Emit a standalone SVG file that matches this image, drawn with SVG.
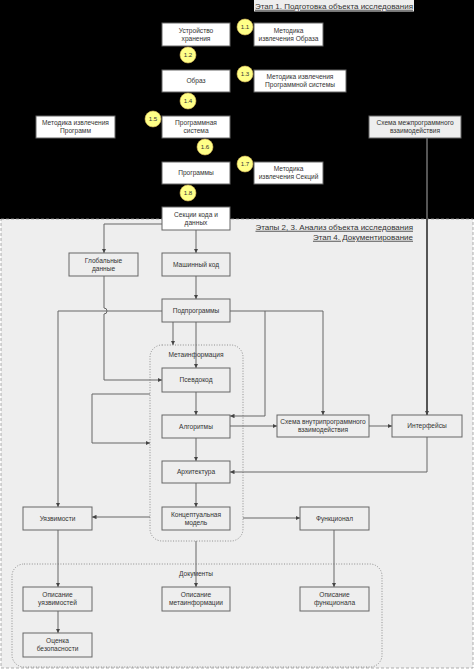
<svg xmlns="http://www.w3.org/2000/svg" width="474" height="669" viewBox="0 0 474 669">
<style>
text{font-family:"Liberation Sans",Arial,sans-serif;fill:#333;}
.t{font-size:6.6px;text-anchor:middle;}
.h{font-size:8px;text-anchor:end;text-decoration:underline;}
.n{stroke:#666;stroke-width:1;fill:#ffffff;}
.g{stroke:#666;stroke-width:1;fill:#eeeeee;}
.c{fill:#ffff88;stroke:#d6b656;stroke-width:0.6;}
.ct{font-size:6.2px;text-anchor:middle;}
.e{fill:none;stroke:#666;stroke-width:1;marker-end:url(#a);}
.d{fill:none;stroke:#777;stroke-width:0.8;stroke-dasharray:1 1.6;}
</style>
<defs>
<marker id="a" viewBox="0 0 6 6" refX="6" refY="3" markerWidth="4.5" markerHeight="4.5" markerUnits="userSpaceOnUse" orient="auto">
<path d="M0,0 L6,3 L0,6 z" fill="#444"/>
</marker>
</defs>
<rect x="0" y="0" width="474" height="219" fill="#000"/>
<rect x="1" y="219" width="472" height="449" fill="#eeeeee" stroke="#999" stroke-width="0.8" stroke-dasharray="3 2"/>
<g id="titles">
<rect x="254" y="0" width="160" height="11.5" fill="#eeeeee"/>
<text class="h" x="413" y="8.8">Этап 1. Подготовка объекта исследования</text>
<text class="h" x="413" y="229.8">Этапы 2, 3. Анализ объекта исследования</text>
<text class="h" x="413" y="239.8">Этап 4. Документирование</text>
</g>
<g id="containers">
<g id="meta"><rect class="d" x="150" y="345" width="93" height="196" rx="12"/><text class="t" x="196" y="356.5">Метаинформация</text></g>
<g id="docs"><rect class="d" x="12" y="564" width="370" height="103" rx="12"/><text class="t" x="196" y="575.5">Документы</text></g>
</g>
<g id="connectors">
<path class="e" d="M427,138 V415" style="stroke-width:2;stroke:#555"/>
<path class="e" d="M162,224 H104 V253"/>
<path class="e" d="M196,230 V253"/>
<path class="e" d="M196,276 V299"/>
<path class="e" d="M104,276 V308 A3,3 0 0 1 104,314 V380 H162"/>
<path class="e" d="M162,311 H58 V507"/>
<path class="e" d="M230,311 H323 V415"/>
<path class="e" d="M265,311 V416 H230"/>
<path class="e" d="M173,322 V345"/>
<path class="e" d="M196,322 V368"/>
<path class="e" d="M196,392 V415"/>
<path class="e" d="M196,438 V461"/>
<path class="e" d="M150,394 H92 V443 H150"/>
<path class="e" d="M230,426 H277"/>
<path class="e" d="M369,426 H392"/>
<path class="e" d="M427,437 V472 H230"/>
<path class="e" d="M196,483 V507"/>
<path class="e" d="M150,517 H92"/>
<path class="e" d="M243,518 H300"/>
<path class="e" d="M58,530 V587"/>
<path class="e" d="M196,541 V587"/>
<path class="e" d="M334,530 V587"/>
<path class="e" d="M58,611 V633"/>
</g>
<g id="n-storage"><rect class="n" x="162" y="23" width="68" height="23"/><text class="t" x="196" y="32.7">Устройство</text><text class="t" x="196" y="40.7">хранения</text></g>
<g id="n-m-obraz"><rect class="n" x="254" y="23" width="69" height="23"/><text class="t" x="288.5" y="32.7">Методика</text><text class="t" x="288.5" y="40.7">извлечения Образа</text></g>
<g id="n-obraz"><rect class="n" x="162" y="70" width="68" height="22"/><text class="t" x="196" y="83.3">Образ</text></g>
<g id="n-m-ps"><rect class="n" x="254" y="70" width="92" height="22"/><text class="t" x="300" y="79.2">Методика извлечения</text><text class="t" x="300" y="87.2">Программной системы</text></g>
<g id="n-m-prog"><rect class="n" x="36" y="116" width="79" height="22"/><text class="t" x="75.5" y="125.2">Методика извлечения</text><text class="t" x="75.5" y="133.2">Программ</text></g>
<g id="n-ps"><rect class="n" x="162" y="116" width="68" height="22"/><text class="t" x="196" y="125.2">Программная</text><text class="t" x="196" y="133.2">система</text></g>
<g id="n-mezh"><rect class="g" x="369" y="116" width="92" height="22"/><text class="t" x="415" y="125.2">Схема межпрограммного</text><text class="t" x="415" y="133.2">взаимодействия</text></g>
<g id="n-programs"><rect class="n" x="162" y="162" width="68" height="22"/><text class="t" x="196" y="175.3">Программы</text></g>
<g id="n-m-sec"><rect class="n" x="254" y="162" width="69" height="22"/><text class="t" x="288.5" y="171.2">Методика</text><text class="t" x="288.5" y="179.2">извлечения Секций</text></g>
<g id="n-sections"><rect class="n" x="162" y="207" width="68" height="23"/><text class="t" x="196" y="216.7">Секции кода и</text><text class="t" x="196" y="224.7">данных</text></g>
<g id="c11"><circle class="c" cx="245" cy="27" r="8"/><text class="ct" x="245" y="29.2">1.1</text></g>
<g id="c12"><circle class="c" cx="188" cy="55" r="8"/><text class="ct" x="188" y="57.2">1.2</text></g>
<g id="c13"><circle class="c" cx="245" cy="74" r="8"/><text class="ct" x="245" y="76.2">1.3</text></g>
<g id="c14"><circle class="c" cx="188" cy="101" r="8"/><text class="ct" x="188" y="103.2">1.4</text></g>
<g id="c15"><circle class="c" cx="153" cy="119" r="8"/><text class="ct" x="153" y="121.2">1.5</text></g>
<g id="c16"><circle class="c" cx="205" cy="147" r="8"/><text class="ct" x="205" y="149.2">1.6</text></g>
<g id="c17"><circle class="c" cx="245" cy="164" r="8"/><text class="ct" x="245" y="166.2">1.7</text></g>
<g id="c18"><circle class="c" cx="188" cy="193" r="8"/><text class="ct" x="188" y="195.2">1.8</text></g>
<g id="n-global"><rect class="g" x="69" y="253" width="69" height="23"/><text class="t" x="103.5" y="262.7">Глобальные</text><text class="t" x="103.5" y="270.7">данные</text></g>
<g id="n-mcode"><rect class="g" x="162" y="253" width="68" height="23"/><text class="t" x="196" y="266.8">Машинный код</text></g>
<g id="n-subs"><rect class="g" x="162" y="299" width="68" height="23"/><text class="t" x="196" y="312.8">Подпрограммы</text></g>
<g id="n-pseudo"><rect class="g" x="162" y="368" width="68" height="24"/><text class="t" x="196" y="382.3">Псевдокод</text></g>
<g id="n-algo"><rect class="g" x="162" y="415" width="68" height="23"/><text class="t" x="196" y="428.8">Алгоритмы</text></g>
<g id="n-vnutr"><rect class="g" x="277" y="415" width="92" height="22"/><text class="t" x="323" y="424.2">Схема внутрипрограммного</text><text class="t" x="323" y="432.2">взаимодействия</text></g>
<g id="n-iface"><rect class="g" x="392" y="415" width="70" height="22"/><text class="t" x="427" y="428.3">Интерфейсы</text></g>
<g id="n-arch"><rect class="g" x="162" y="461" width="68" height="22"/><text class="t" x="196" y="474.3">Архитектура</text></g>
<g id="n-vuln"><rect class="g" x="23" y="507" width="69" height="23"/><text class="t" x="57.5" y="520.8">Уязвимости</text></g>
<g id="n-concept"><rect class="g" x="162" y="507" width="68" height="23"/><text class="t" x="196" y="516.7">Концептуальная</text><text class="t" x="196" y="524.7">модель</text></g>
<g id="n-func"><rect class="g" x="300" y="507" width="69" height="23"/><text class="t" x="334.5" y="520.8">Функционал</text></g>
<g id="n-d-vuln"><rect class="g" x="23" y="587" width="69" height="24"/><text class="t" x="57.5" y="597.2">Описание</text><text class="t" x="57.5" y="605.2">уязвимостей</text></g>
<g id="n-d-meta"><rect class="g" x="162" y="587" width="68" height="24"/><text class="t" x="196" y="597.2">Описание</text><text class="t" x="196" y="605.2">метаинформации</text></g>
<g id="n-d-func"><rect class="g" x="300" y="587" width="69" height="24"/><text class="t" x="334.5" y="597.2">Описание</text><text class="t" x="334.5" y="605.2">функционала</text></g>
<g id="n-sec"><rect class="g" x="23" y="633" width="69" height="24"/><text class="t" x="57.5" y="643.2">Оценка</text><text class="t" x="57.5" y="651.2">безопасности</text></g>
</svg>
